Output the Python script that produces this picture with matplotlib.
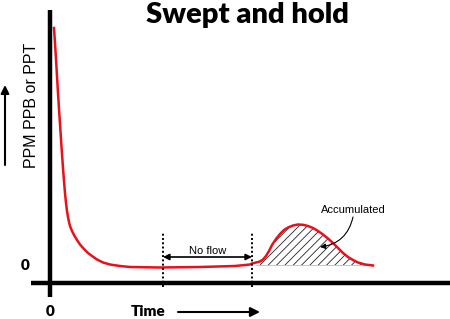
import matplotlib
matplotlib.use("Agg")
import matplotlib.pyplot as plt

# Schematic concentration trace (arbitrary units): time vs concentration
decay_t = [4, 5, 6, 7, 8, 9, 10, 11, 12, 13, 14, 15, 16, 17, 18, 19, 20, 22, 24, 27,
           30, 34, 38, 42, 47, 53, 60, 70, 80, 110, 150, 185, 200]
decay_c = [255, 240, 224, 207, 190, 174, 159, 144, 129, 115, 102, 90, 80, 72, 66, 61, 57,
           52, 48, 43, 38.5, 34, 30, 27, 23.5, 20.5, 18.5, 17, 16, 15.5, 16, 17, 18.5]

bump_t = [202, 206, 210, 213, 216, 219, 222, 226, 230, 234, 238, 243, 248, 253, 258,
          263, 268, 273, 278, 283, 288, 293, 298, 303, 308, 315, 323]
bump_c = [19.5, 20.5, 21.5, 23.5, 27, 32, 38, 44, 49, 53, 55.5, 57.5, 58.5, 58.2, 57,
          55, 52, 48.5, 44.5, 40, 35, 30, 26, 23, 20.5, 18.5, 17.5]

no_flow_start = 113
no_flow_end = 202
hatch_base = 18

title = "Swept and hold"
y_label = "PPM PPB or PPT"
x_label = "Time"

plt.rcParams["hatch.linewidth"] = 0.6

fig = plt.figure(figsize=(4.5, 3.19), dpi=100)
ax = fig.add_axes([0, 0, 1, 1])
ax.set_xlim(-50, 400)
ax.set_ylim(-36, 283)
ax.axis("off")

# axes lines
ax.plot([0, 0], [-14, 273], color="black", lw=3.2, solid_capstyle="butt")
ax.plot([-19, 400], [0, 0], color="black", lw=3.2, solid_capstyle="butt")

# hatched accumulated area
ht = [t for t in bump_t if t >= 208]
hc = [c for t, c in zip(bump_t, bump_c) if t >= 208]
ax.fill_between(ht, hatch_base, hc, facecolor="none", edgecolor="#222222",
                hatch="////", linewidth=0)
ax.plot([206, 318], [hatch_base, hatch_base], color="#bbbbbb", lw=0.6)

# red trace
ax.plot(decay_t + bump_t, decay_c + bump_c, color="#e8101a", lw=1.8)

# no-flow markers
for t in (no_flow_start, no_flow_end):
    ax.plot([t, t], [-4, 51], color="black", lw=1.4, linestyle=(0, (1, 1.2)))
ax.annotate("", xy=(no_flow_start, 26), xytext=(no_flow_end, 26),
            arrowprops=dict(arrowstyle="<|-|>", color="black", lw=1.2,
                            mutation_scale=9, shrinkA=0, shrinkB=0))
ax.text((no_flow_start + no_flow_end) / 2, 32, "No flow", ha="center", va="center",
        fontsize=8, family="Liberation Sans")

ax.annotate("", xy=(270, 36), xytext=(303, 66),
            arrowprops=dict(arrowstyle="-|>", color="black", lw=0.8,
                            mutation_scale=8, shrinkA=0, shrinkB=0,
                            connectionstyle="arc3,rad=-0.35"))
ax.text(303, 73, "Accumulated", ha="center", va="center", fontsize=8,
        family="Liberation Sans")

# labels
ax.text(197, 268, title, ha="center", va="center", fontsize=21,
        family="Lato", fontweight="heavy")
ax.text(-25, 17, "0", ha="center", va="center", fontsize=11, family="Lato",
        fontweight="heavy")
ax.text(0, -29, "0", ha="center", va="center", fontsize=11, family="Lato",
        fontweight="heavy")
ax.text(98, -28, x_label, ha="center", va="center", fontsize=11, family="Lato",
        fontweight="heavy")
ax.annotate("", xy=(210, -29), xytext=(128, -29),
            arrowprops=dict(arrowstyle="-|>", color="black", lw=1.5,
                            mutation_scale=14, shrinkA=0, shrinkB=0))
ax.text(-19, 178, y_label, ha="center", va="center", rotation=90,
        fontsize=11.5, family="Liberation Sans")
ax.annotate("", xy=(-45, 198), xytext=(-45, 118),
            arrowprops=dict(arrowstyle="-|>", color="black", lw=1.5,
                            mutation_scale=12, shrinkA=0, shrinkB=0))

fig.savefig("out.png", dpi=100)
